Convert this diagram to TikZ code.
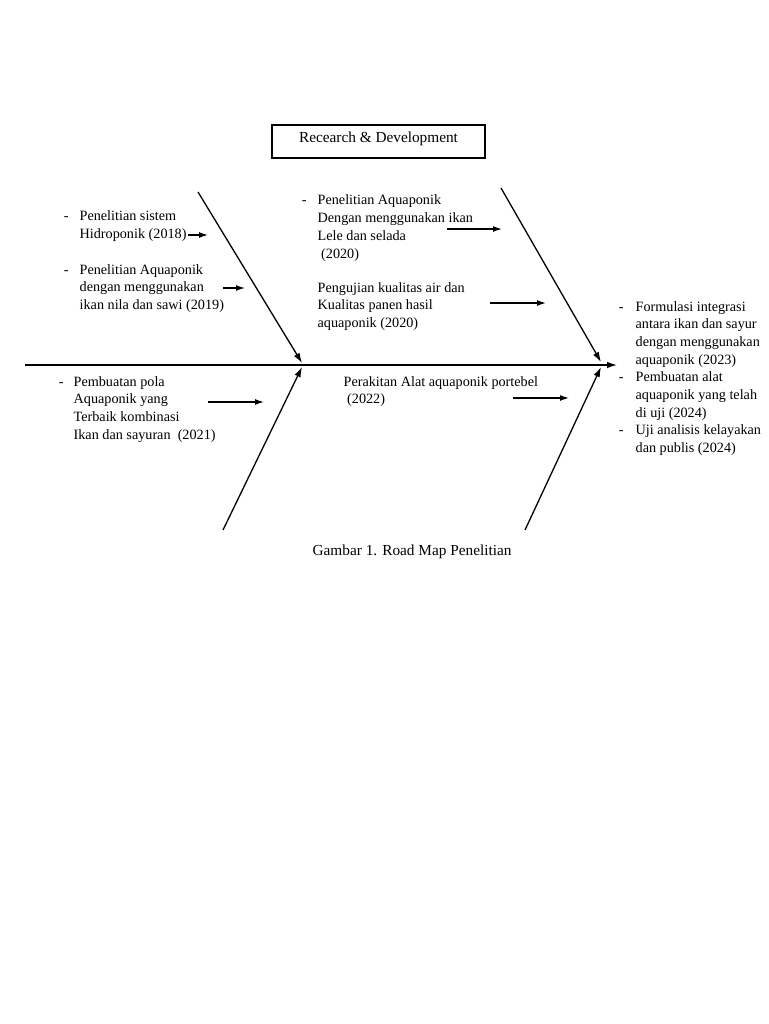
\documentclass[tikz,border=0pt]{standalone}
\usepackage{fontspec}
\setmainfont{Liberation Serif}
\usetikzlibrary{arrows.meta}
\newcommand\txtblock[1]{\begin{tabular}[t]{@{}l@{}}#1\end{tabular}}
\newcommand\dashitem[1]{\llap{-\hspace{#1}}}
\begin{document}
\begin{tikzpicture}[x=1pt,y=-1pt,line width=1.3pt,
  arr/.style={-{Latex[length=9pt,width=6pt]}},
  bone/.style={-{Latex[length=10pt,width=6.5pt]}},
  txt/.style={anchor=base west,inner sep=0pt,font=\fontsize{14.2}{17.7}\selectfont},
  bigtxt/.style={inner sep=0pt,font=\fontsize{15.3}{18}\selectfont}]
\useasboundingbox (0,0) rectangle (768,1024);

% title box
\node[bigtxt,draw,line width=1.2pt,minimum width=213pt,minimum height=33pt,text height=7pt,text depth=4pt] (title) at (378.5,141.5) {Recearch \& Development};

% spine
\coordinate (spineS) at (25,365);
\coordinate (spineE) at (617,365);
\draw[bone] (spineS) -- (spineE);

% bones
\coordinate (ub1s) at (198,192);
\coordinate (ub1e) at (302,363);
\coordinate (lb1s) at (223,530);
\coordinate (lb1e) at (302,367);
\coordinate (ub2s) at (501,188);
\coordinate (ub2e) at (601,362);
\coordinate (lb2s) at (525,530);
\coordinate (lb2e) at (601,367);
\draw[bone] (ub1s) -- (ub1e);
\draw[bone] (lb1s) -- (lb1e);
\draw[bone] (ub2s) -- (ub2e);
\draw[bone] (lb2s) -- (lb2e);

% text blocks
\node[txt] (t2018) at (79,221) {\txtblock{\dashitem{11pt}Penelitian sistem\\Hidroponik (2018)}};
\node[txt] (t2019) at (79,274) {\txtblock{\dashitem{11pt}Penelitian Aquaponik\\dengan menggunakan\\ikan nila dan sawi (2019)}};
\node[txt] (t2020a) at (317,205) {\txtblock{\dashitem{11pt}Penelitian Aquaponik\\Dengan menggunakan ikan\\Lele dan selada\\\ (2020)}};
\node[txt] (t2020b) at (317,292) {\txtblock{Pengujian kualitas air dan\\Kualitas panen hasil\\aquaponik (2020)}};
\node[txt] (t2023) at (635,311) {\txtblock{\dashitem{12pt}Formulasi integrasi\\antara ikan dan sayur\\dengan menggunakan\\aquaponik (2023)\\\dashitem{12pt}Pembuatan alat\\aquaponik yang telah\\di uji (2024)\\\dashitem{12pt}Uji analisis kelayakan\\dan publis (2024)}};
\node[txt] (t2021) at (73,386) {\txtblock{\dashitem{10pt}Pembuatan pola\\Aquaponik yang\\Terbaik kombinasi\\Ikan dan sayuran\ \ (2021)}};
\node[txt] (t2022) at (343,386) {\txtblock{Perakitan Alat aquaponik portebel\\\ (2022)}};

% small arrows
\coordinate (a1s) at (188,235); \coordinate (a1e) at (208,235);
\coordinate (a2s) at (223,288); \coordinate (a2e) at (245,288);
\coordinate (a3s) at (447,229); \coordinate (a3e) at (502,229);
\coordinate (a4s) at (490,303); \coordinate (a4e) at (546,303);
\coordinate (a5s) at (208,402); \coordinate (a5e) at (264,402);
\coordinate (a6s) at (513,398); \coordinate (a6e) at (569,398);
\draw[arr] (a1s) -- (a1e);
\draw[arr] (a2s) -- (a2e);
\draw[arr] (a3s) -- (a3e);
\draw[arr] (a4s) -- (a4e);
\draw[arr] (a5s) -- (a5e);
\draw[arr] (a6s) -- (a6e);

% caption
\node[bigtxt,anchor=base west] (caption) at (312,555) {Gambar 1. Road Map Penelitian};
\end{tikzpicture}
\end{document}
